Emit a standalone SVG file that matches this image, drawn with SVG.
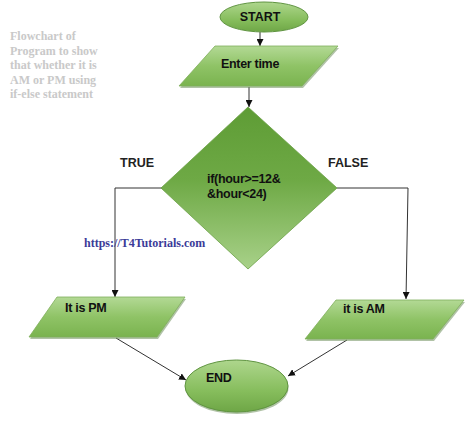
<svg xmlns="http://www.w3.org/2000/svg" width="474" height="422" viewBox="0 0 474 422">
<defs>
<linearGradient id="gPar" x1="0" y1="0" x2="0" y2="1">
<stop offset="0" stop-color="#b3d995"/>
<stop offset="0.5" stop-color="#8fc366"/>
<stop offset="1" stop-color="#7ab34f"/>
</linearGradient>
<linearGradient id="gDia" x1="0" y1="0" x2="0" y2="1">
<stop offset="0" stop-color="#5e9c35"/>
<stop offset="0.45" stop-color="#6ea945"/>
<stop offset="1" stop-color="#a8d189"/>
</linearGradient>
<linearGradient id="gEll" x1="0" y1="0" x2="0" y2="1">
<stop offset="0" stop-color="#aed68d"/>
<stop offset="0.6" stop-color="#86bd5c"/>
<stop offset="1" stop-color="#6ea646"/>
</linearGradient>
<marker id="arr" viewBox="0 0 10 10" refX="10" refY="5" markerWidth="7" markerHeight="7" orient="auto" markerUnits="userSpaceOnUse">
<path d="M0,0 L10,5 L0,10 z" fill="#111"/>
</marker>
</defs>
<style>
.shadow{fill:#6f8f5c;opacity:0.55}
.par{fill:url(#gPar);stroke:#7fae5a;stroke-width:0.8}
.dia{fill:url(#gDia);stroke:#6aa044;stroke-width:0.8}
.ell{fill:url(#gEll);stroke:#5f9440;stroke-width:1}
.lbl{font-family:"Liberation Sans",Arial,sans-serif;font-weight:bold;font-size:12.5px;fill:#111}
.side{font-family:"Liberation Sans",Arial,sans-serif;font-weight:bold;font-size:12.5px;fill:#222}
.title{font-family:"Liberation Serif","Times New Roman",serif;font-weight:bold;font-size:12px;fill:#c9c9c9}
.url{font-family:"Liberation Serif","Times New Roman",serif;font-weight:bold;font-size:12px;fill:#3b3b98}
.con{fill:none;stroke:#333;stroke-width:1}
</style>
<rect width="474" height="422" fill="#ffffff"/>

<g id="title">
<text class="title" x="10" y="40">Flowchart of</text>
<text class="title" x="10" y="54.5">Program to show</text>
<text class="title" x="10" y="69">that whether it is</text>
<text class="title" x="10" y="83.5">AM or PM using</text>
<text class="title" x="10" y="98">if-else statement</text>
</g>

<g id="connectors">
<line class="con" x1="260" y1="32" x2="260" y2="46" marker-end="url(#arr)"/>
<line class="con" x1="249" y1="87" x2="249" y2="107" marker-end="url(#arr)"/>
<polyline class="con" points="162,188 115,188 115,297" marker-end="url(#arr)"/>
<polyline class="con" points="337,188 408,188 406,299" marker-end="url(#arr)"/>
<line class="con" x1="116" y1="338" x2="186" y2="380" marker-end="url(#arr)"/>
<line class="con" x1="347" y1="340" x2="288" y2="376" marker-end="url(#arr)"/>
</g>

<g id="start">
<ellipse class="ell" cx="264" cy="17" rx="44" ry="15"/>
<text class="lbl" x="260" y="21" text-anchor="middle">START</text>
</g>

<g id="enter-time">
<polygon class="shadow" points="216,48 339,48 303,88 180,88"/>
<polygon class="par" points="215,46 338,46 302,86 179,86"/>
<text class="lbl" x="250" y="68" text-anchor="middle" letter-spacing="-0.3">Enter time</text>
</g>

<g id="decision">
<polygon class="dia" points="248,107 337,188 248,269 161,188"/>
<text class="lbl" x="207" y="183" letter-spacing="-0.3">if(hour&gt;=12&amp;</text>
<text class="lbl" x="207" y="198" letter-spacing="-0.3">&amp;hour&lt;24)</text>
</g>

<g id="labels">
<text class="side" x="120" y="167">TRUE</text>
<text class="side" x="328" y="167">FALSE</text>
<text class="url" x="84" y="247">https://T4Tutorials.com</text>
</g>

<g id="pm">
<polygon class="shadow" points="58,299 186,299 158,339 30,339"/>
<polygon class="par" points="57,297 185,297 157,337 29,337"/>
<text class="lbl" x="65" y="312" letter-spacing="-0.3">It is PM</text>
</g>

<g id="am">
<polygon class="shadow" points="337,302 465,302 434,341 306,341"/>
<polygon class="par" points="336,300 464,300 433,339 305,339"/>
<text class="lbl" x="343" y="313" letter-spacing="-0.3">it is AM</text>
</g>

<g id="end">
<ellipse class="shadow" cx="237" cy="388" rx="51.5" ry="26"/>
<ellipse class="ell" cx="236.5" cy="386" rx="51.5" ry="26"/>
<text class="lbl" x="206" y="382" letter-spacing="-0.3">END</text>
</g>
</svg>
